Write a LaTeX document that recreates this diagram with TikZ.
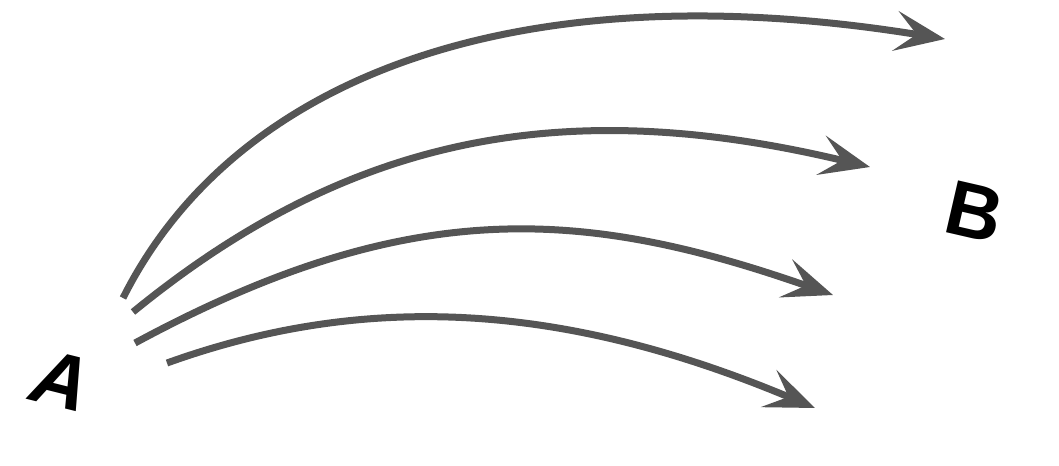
\documentclass[tikz,border=0pt]{standalone}
\usepackage{fontspec}
\setmainfont{Liberation Sans}
\usepackage{xcolor}
\usetikzlibrary{arrows.meta}
\definecolor{flowgray}{RGB}{85,85,85}
\tikzset{
  flow/.style={draw=flowgray, line width=5.25pt, line cap=butt,
    -{Stealth[length=37.5pt, width=30pt, inset=16pt, fill=flowgray]}},
  endlabel/.style={font=\fontsize{58}{60}\selectfont\bfseries, inner sep=0.75pt}
}
\begin{document}
\begin{tikzpicture}[x=0.75pt,y=0.75pt,yscale=-1,xscale=1]
\useasboundingbox (0,0) rectangle (1059,465);

% Text Node
\node [endlabel, rotate=-14] (A) at (61,380) {\itshape A};
% Text Node
\node [endlabel, rotate=-13] (B) at (975,212) {B};

% start and end points
\coordinate (s1) at (123,298);
\coordinate (s2) at (133,312);
\coordinate (s3) at (135,343);
\coordinate (s4) at (167,363);
\coordinate (t1) at (945,39);
\coordinate (t2) at (870,167);
\coordinate (t3) at (833,295);
\coordinate (t4) at (815,408);

%Curve Lines
\draw [flow] (s1) .. controls (235,75) and (520,-30) .. (t1);
%Curve Lines
\draw [flow] (s2) .. controls (353,132) and (570,95) .. (t2);
%Curve Lines
\draw [flow] (s3) .. controls (409,195) and (583,207.5) .. (t3);
%Curve Lines
\draw [flow] (s4) .. controls (367,291) and (565,303) .. (t4);

\end{tikzpicture}
\end{document}
